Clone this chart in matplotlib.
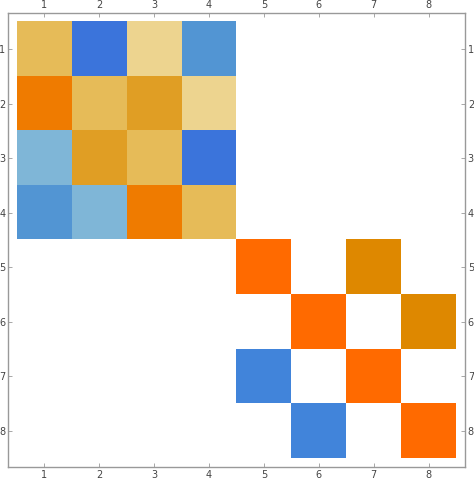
import numpy as np
import matplotlib
matplotlib.use("Agg")
import matplotlib.pyplot as plt
from matplotlib.colors import ListedColormap, BoundaryNorm

# matrix entries (row 1 at top)
block_a = [[0.5, -1.0, 0.25, -0.75],
           [1.0, 0.5, 0.75, 0.25],
           [-0.5, 0.75, 0.5, -1.0],
           [-0.75, -0.5, 1.0, 0.5]]
block_b = [[1.5, 0, 1.25, 0],
           [0, 1.5, 0, 1.25],
           [-1.5, 0, 1.5, 0],
           [0, -1.5, 0, 1.5]]
ticks = [1, 2, 3, 4, 5, 6, 7, 8]

levels = [-1.5, -1.0, -0.75, -0.5, 0, 0.25, 0.5, 0.75, 1.0, 1.25, 1.5]
colors = ["#4184DA", "#3B74DB", "#5295D3", "#7FB6D7", "#FFFFFF",
          "#EDD48F", "#E6BB58", "#E09E24", "#EF7B00", "#DE8800", "#FF6A00"]

M = np.zeros((8, 8))
M[:4, :4] = block_a
M[4:, 4:] = block_b

bounds = [levels[0] - 0.5] + [(a + b) / 2 for a, b in zip(levels[:-1], levels[1:])] + [levels[-1] + 0.5]
cmap = ListedColormap(colors)
norm = BoundaryNorm(bounds, cmap.N)

fig = plt.figure(figsize=(4.74, 4.82), dpi=100)
ax = fig.add_axes([8/474, 15/482, 457/474, 454/482])
ax.imshow(M, cmap=cmap, norm=norm, interpolation="nearest", aspect="auto",
          extent=(0.5, 8.5, 8.5, 0.5))
pad = 0.165
ax.set_xlim(0.5 - pad, 8.5 + pad)
ax.set_ylim(8.5 + pad, 0.5 - pad)

ax.set_xticks(ticks)
ax.set_yticks(ticks)
ax.tick_params(direction="in", length=3, width=0.6, color="#999999",
               labelsize=7, labelcolor="#444444", pad=2,
               top=True, right=True, labeltop=True, labelright=True)
for s in ax.spines.values():
    s.set_color("#999999")
    s.set_linewidth(1.0)

fig.savefig("out.png", dpi=100)
